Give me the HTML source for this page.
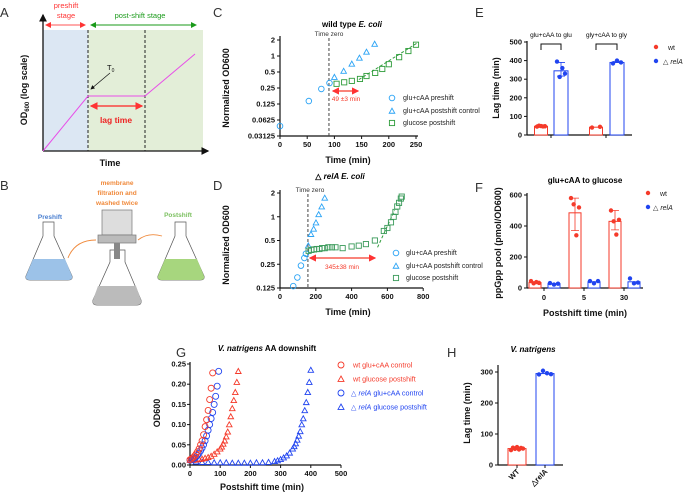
<!DOCTYPE html>
<html><head><meta charset="utf-8"><style>
html,body{margin:0;padding:0;background:#fff;}
svg{display:block;font-family:"Liberation Sans",Arial,sans-serif;}
.tk{font-size:7.5px;font-weight:bold;fill:#111;}
.al{font-size:9px;font-weight:bold;fill:#111;}
.pl{font-size:13px;fill:#333;}
.lg{font-size:7px;fill:#222;}
</style></head><body>
<svg id="fig" width="685" height="495" viewBox="0 0 685 495">
<defs>
<marker id="ar" markerWidth="6" markerHeight="6" refX="5" refY="3" orient="auto"><path d="M0,0L6,3L0,6z" fill="#111"/></marker>
<marker id="arR" markerWidth="6" markerHeight="6" refX="5" refY="3" orient="auto-start-reverse"><path d="M0,0L6,3L0,6z" fill="#f33"/></marker>
<marker id="arG" markerWidth="6" markerHeight="6" refX="5" refY="3" orient="auto-start-reverse"><path d="M0,0L6,3L0,6z" fill="#1a9a1a"/></marker>
</defs>
<text class="pl" x="0" y="17">A</text>
<text class="pl" x="0" y="190">B</text>
<text class="pl" x="213" y="17">C</text>
<text class="pl" x="213" y="190">D</text>
<text class="pl" x="475" y="17">E</text>
<text class="pl" x="475" y="192">F</text>
<text class="pl" x="176" y="357">G</text>
<text class="pl" x="447" y="357">H</text>

<g>
<rect x="43" y="30" width="45" height="121" fill="#dce7f3"/>
<rect x="88" y="30" width="115" height="121" fill="#e3eed8"/>
<line x1="43" y1="151" x2="43" y2="15" stroke="#111" stroke-width="1.3" marker-end="url(#ar)"/>
<line x1="43" y1="151" x2="208" y2="151" stroke="#111" stroke-width="1.3" marker-end="url(#ar)"/>
<line x1="88" y1="30" x2="88" y2="151" stroke="#222" stroke-dasharray="3,2"/>
<line x1="145" y1="30" x2="145" y2="151" stroke="#222" stroke-dasharray="3,2"/>
<polyline points="43,151 88,96 145,96 195,54" fill="none" stroke="#e84ee8" stroke-width="1"/>
<line x1="46" y1="25" x2="85" y2="25" stroke="#f55" marker-start="url(#arR)" marker-end="url(#arR)"/>
<line x1="91" y1="25" x2="196" y2="25" stroke="#1a9a1a" marker-start="url(#arG)" marker-end="url(#arG)"/>
<text x="66" y="8" font-size="7.5" fill="#f33" text-anchor="middle">preshift</text>
<text x="66" y="18" font-size="7.5" fill="#f33" text-anchor="middle">stage</text>
<text x="140" y="18" font-size="7.5" fill="#1a9a1a" text-anchor="middle">post-shift stage</text>
<text x="107" y="70" font-size="7.5" fill="#111">T<tspan font-size="5" dy="2">0</tspan></text>
<line x1="110" y1="73" x2="91" y2="89" stroke="#111" stroke-width="0.7" marker-end="url(#ar)"/>
<line x1="91" y1="106" x2="142" y2="106" stroke="#f22" stroke-width="1.3" marker-start="url(#arR)" marker-end="url(#arR)"/>
<text x="116" y="123" font-size="8.5" font-weight="bold" fill="#e22" text-anchor="middle">lag time</text>
<text x="110" y="166" class="al" text-anchor="middle">Time</text>
<text transform="translate(27,90) rotate(-90)" class="al" text-anchor="middle">OD<tspan font-size="6" dy="2">600</tspan><tspan dy="-2"> (log scale)</tspan></text>
</g>

<g>
<text x="50" y="219" font-size="6.5" font-weight="bold" fill="#4a7fd0" text-anchor="middle">Preshift</text>
<text x="117" y="185" font-size="6.5" font-weight="bold" fill="#f08a3c" text-anchor="middle">membrane</text>
<text x="117" y="195" font-size="6.5" font-weight="bold" fill="#f08a3c" text-anchor="middle">filtration and</text>
<text x="117" y="205" font-size="6.5" font-weight="bold" fill="#f08a3c" text-anchor="middle">washed twice</text>
<text x="178" y="217" font-size="6.5" font-weight="bold" fill="#7cc060" text-anchor="middle">Postshift</text>
<path d="M43,222 L54,222 L54,236 L72,276 Q73,280 68,280 L30,280 Q25,280 26,276 L43,236 Z" fill="#fff" stroke="#555" stroke-width="0.7"/>
<path d="M33,259 L65,259 L72,276 Q73,280 68,280 L30,280 Q25,280 26,276 Z" fill="#9cc2e8"/>
<path d="M175,222 L186,222 L186,236 L204,276 Q205,280 200,280 L162,280 Q157,280 158,276 L175,236 Z" fill="#fff" stroke="#555" stroke-width="0.7"/>
<path d="M165,259 L197,259 L204,276 Q205,280 200,280 L162,280 Q157,280 158,276 Z" fill="#a7d67e"/>
<path d="M110,250 L125,250 L125,262 L141,300 Q142,305 137,305 L97,305 Q92,305 93,300 L110,262 Z" fill="#fff" stroke="#555" stroke-width="0.7"/>
<path d="M98,286 L136,286 L141,300 Q142,305 137,305 L97,305 Q92,305 93,300 Z" fill="#bbb"/>
<rect x="102" y="210" width="30" height="25" fill="#ddd" stroke="#777" stroke-width="0.7"/>
<rect x="98" y="235" width="38" height="8" fill="#bbb" stroke="#777" stroke-width="0.7"/>
<rect x="114" y="243" width="6" height="16" fill="#888"/>
<path d="M68,258 Q75,240 96,240" fill="none" stroke="#f08a3c" stroke-width="0.9"/>
<path d="M138,240 Q148,232 162,236" fill="none" stroke="#f08a3c" stroke-width="0.9"/>
</g>

<g id="gC"></g>
<g id="gD"></g>
<g id="gE"></g>
<g id="gF"></g>
<g id="gG"></g>
<g id="gH"></g>
</svg>
<script>
const cPreT=[0,53,76,91];
const cPreV=[0.048,0.142,0.24,0.31];
const cCtlT=[100,117,132,146,159,174];
const cCtlV=[0.40,0.52,0.71,0.92,1.19,1.68];
const cGluT=[104,118,132,147,159,175,188,200,219,236,250];
const cGluV=[0.30,0.32,0.34,0.37,0.42,0.48,0.57,0.70,0.95,1.24,1.63];
const cYTicks=["2","1","0.5","0.25","0.125","0.0625","0.03125"];
const cXTicks=[0,50,100,150,200,250];
const dPreT=[74,97,117,136,145];
const dPreV=[0.132,0.17,0.24,0.30,0.34];
const dCtlT=[158,173,188,201,216,233,250];
const dCtlV=[0.43,0.60,0.70,0.84,1.07,1.34,1.73];
const dGluT=[160,175,190,205,220,235,250,270,290,310,350,400,440,480,530,580,600,620,635,645,655,665,675,680];
const dGluV=[0.37,0.38,0.385,0.39,0.39,0.40,0.40,0.41,0.41,0.41,0.40,0.42,0.43,0.45,0.50,0.66,0.72,0.85,1.0,1.15,1.35,1.5,1.7,1.8];
const dYTicks=["2","1","0.5","0.25","0.125"];
const dXTicks=[0,200,400,600,800];
const eGroups=["glu+cAA to glu","gly+cAA to gly"];
const eWt=[47,42];
const eRel=[345,390];
const eWtPts=[[45,50,48,46,47],[40,44]];
const eRelPts=[[395,312,360,330],[385,400,390]];
const eYTicks=[0,100,200,300,400,500];
const fCats=["0","5","30"];
const fWt=[35,485,430];
const fRel=[28,40,40];
const fWtPts=[[45,30,38,33],[580,540,340,520],[500,430,345,440]];
const fRelPts=[[32,22,28],[45,30,45],[62,30,35]];
const fYTicks=[0,200,400,600];
const gT=[0,5,10,15,20,25,30,35,40,45,50,55,60,65,70,75,80,85,90,95];
const gWtCtl=[0.013,0.015,0.018,0.022,0.027,0.033,0.04,0.05,0.06,0.075,0.095,0.112,0.135,0.162,0.19,0.228];
const gRelCtl=[0.012,0.013,0.015,0.017,0.02,0.024,0.029,0.035,0.042,0.05,0.06,0.072,0.086,0.1,0.115,0.13,0.15,0.17,0.195,0.232];
const gWtGluT=[0,10,20,30,40,50,60,70,80,90,100,105,110,115,120,125,130,135,140,145,150,155,160];
const gWtGlu=[0.012,0.012,0.013,0.014,0.015,0.017,0.019,0.022,0.027,0.033,0.04,0.045,0.052,0.06,0.07,0.082,0.1,0.12,0.14,0.16,0.18,0.205,0.232];
const gRelGluT=[20,40,60,80,100,120,140,160,180,200,220,240,260,280,290,300,310,320,330,340,345,350,355,360,365,370,375,380,385,390,395,400];
const gRelGlu=[0.008,0.007,0.007,0.006,0.006,0.006,0.005,0.005,0.005,0.005,0.006,0.006,0.007,0.009,0.011,0.014,0.018,0.023,0.03,0.04,0.046,0.053,0.062,0.072,0.083,0.1,0.115,0.135,0.155,0.18,0.205,0.235];
const gYTicks=[0,0.05,0.10,0.15,0.20,0.25];
const gXTicks=[0,100,200,300,400,500];
const hCats=["WT","△relA"];
const hVals=[53,295];
const hPts=[[48,56,52,58,50,55,53],[292,304,296,293]];
const hYTicks=[0,100,200,300];

const NS="http://www.w3.org/2000/svg";
function el(p,tag,a,txt){const e=document.createElementNS(NS,tag);for(const k in a)e.setAttribute(k,a[k]);if(txt!==undefined)e.textContent=txt;p.appendChild(e);return e;}
function circ(p,x,y,r,c){const e=el(p,'circle',{cx:x,cy:y,r:r,fill:'none',stroke:c,'stroke-width':0.9});

return e;}
function tri(p,x,y,s,c){const e=el(p,'path',{d:`M${x},${y-s}L${x+s},${y+s*0.8}L${x-s},${y+s*0.8}Z`,fill:'none',stroke:c,'stroke-width':0.9});

return e;}
function sq(p,x,y,s,c){const e=el(p,'rect',{x:x-s,y:y-s,width:2*s,height:2*s,fill:'none',stroke:c,'stroke-width':0.9});

return e;}
function dot(p,x,y,c){const e=el(p,'circle',{cx:x,cy:y,r:2.2,fill:c});

return e;}
function axes(p,x0,x1,y0,y1){el(p,'line',{x1:x0,y1:y0,x2:x0,y2:y1,stroke:'#111','stroke-width':1.2});el(p,'line',{x1:x0,y1:y0,x2:x1,y2:y0,stroke:'#111','stroke-width':1.2});}
function ylab(p,x,y,t){const e=el(p,'text',{transform:`translate(${x},${y}) rotate(-90)`,class:'al','text-anchor':'middle'},t);

return e;}
function xlab(p,x,y,t){const e=el(p,'text',{x:x,y:y,class:'al','text-anchor':'middle'},t);

return e;}
const BLUE='#2aa3f5',GREEN='#2e9c3a',RED='#f53a2a',DBLUE='#2044f0';

(function(){const g=document.getElementById('gC');
const X=t=>280+t*0.544, Y=v=>40+(1-Math.log2(v))*16;
axes(g,280,418,136,36);
cYTicks.forEach(s=>{const y=Y(parseFloat(s));el(g,'line',{x1:277,y1:y,x2:280,y2:y,stroke:'#111'});el(g,'text',{x:275,y:y+2.5,class:'tk','text-anchor':'end'},s);});
cXTicks.forEach(t=>{el(g,'line',{x1:X(t),y1:136,x2:X(t),y2:139,stroke:'#111'});el(g,'text',{x:X(t),y:147,class:'tk','text-anchor':'middle'},t);});
const tt=el(g,'text',{x:352,y:27,'font-size':8,'font-weight':'bold','text-anchor':'middle'});tt.innerHTML='wild type <tspan font-style="italic">E. coli</tspan>';
el(g,'text',{x:329,y:36,'font-size':6.5,'text-anchor':'middle',fill:'#333'},'Time zero');
el(g,'line',{x1:X(90),y1:38,x2:X(90),y2:136,stroke:'#444','stroke-dasharray':'3,2'});
el(g,'line',{x1:X(145),y1:Y(0.36),x2:X(252),y2:Y(1.75),stroke:GREEN,'stroke-dasharray':'3,2'});
el(g,'line',{x1:333,y1:91,x2:358,y2:91,stroke:RED,'stroke-width':1.2,'marker-start':'url(#arR)','marker-end':'url(#arR)'});
el(g,'text',{x:346,y:101,'font-size':6.5,fill:RED,'text-anchor':'middle'},'49 ±3 min');
cPreT.forEach((t,i)=>circ(g,X(t),Y(cPreV[i]),2.8,BLUE));
cCtlT.forEach((t,i)=>tri(g,X(t),Y(cCtlV[i]),2.8,BLUE));
cGluT.forEach((t,i)=>sq(g,X(t),Y(cGluV[i]),2.6,GREEN));
ylab(g,229,88,'Normalized OD600');xlab(g,348,163,'Time (min)');
circ(g,392,98,2.8,BLUE);el(g,'text',{x:403,y:100,class:'lg'},'glu+cAA preshift');
tri(g,392,111,2.8,BLUE);el(g,'text',{x:403,y:113,class:'lg'},'glu+cAA postshift control');
sq(g,392,123,2.6,GREEN);el(g,'text',{x:403,y:125,class:'lg'},'glucose postshift');
})();

(function(){const g=document.getElementById('gD');
const X=t=>280+t*0.179, Y=v=>193+(1-Math.log2(v))*23.75;
axes(g,280,423,288,190);
dYTicks.forEach(s=>{const y=Y(parseFloat(s));el(g,'line',{x1:277,y1:y,x2:280,y2:y,stroke:'#111'});el(g,'text',{x:275,y:y+2.5,class:'tk','text-anchor':'end'},s);});
dXTicks.forEach(t=>{el(g,'line',{x1:X(t),y1:288,x2:X(t),y2:291,stroke:'#111'});el(g,'text',{x:X(t),y:299,class:'tk','text-anchor':'middle'},t);});
const tt=el(g,'text',{x:340,y:179,'font-size':8,'font-weight':'bold','text-anchor':'middle'});tt.innerHTML='△ <tspan font-style="italic">relA E. coli</tspan>';
el(g,'text',{x:310,y:192,'font-size':6.5,'text-anchor':'middle',fill:'#333'},'Time zero');
el(g,'line',{x1:X(156),y1:194,x2:X(156),y2:288,stroke:'#444','stroke-dasharray':'3,2'});
el(g,'line',{x1:X(545),y1:Y(0.41),x2:X(640),y2:Y(1.2),stroke:GREEN,'stroke-dasharray':'3,2'});
el(g,'line',{x1:310,y1:258,x2:375,y2:258,stroke:RED,'stroke-width':1.2,'marker-start':'url(#arR)','marker-end':'url(#arR)'});
el(g,'text',{x:342,y:269,'font-size':6.5,fill:RED,'text-anchor':'middle'},'345±38 min');
dPreT.forEach((t,i)=>circ(g,X(t),Y(dPreV[i]),2.8,BLUE));
dCtlT.forEach((t,i)=>tri(g,X(t),Y(dCtlV[i]),2.8,BLUE));
dGluT.forEach((t,i)=>sq(g,X(t),Y(dGluV[i]),2.6,'#3a9a5a'));
ylab(g,229,245,'Normalized OD600');xlab(g,348,315,'Time (min)');
circ(g,396,253,2.8,BLUE);el(g,'text',{x:406,y:255,class:'lg'},'glu+cAA preshift');
tri(g,396,266,2.8,BLUE);el(g,'text',{x:406,y:268,class:'lg'},'glu+cAA postshift control');
sq(g,396,278,2.6,'#3a9a5a');el(g,'text',{x:406,y:280,class:'lg'},'glucose postshift');
})();

(function(){const g=document.getElementById('gE');
const Y=v=>135-v*0.186; const cx=[[541,561],[596,617]];
axes(g,527,632,135,41);
eYTicks.forEach(v=>{el(g,'line',{x1:524,y1:Y(v),x2:527,y2:Y(v),stroke:'#111'});el(g,'text',{x:522,y:Y(v)+2.5,class:'tk','text-anchor':'end'},v);});
el(g,'line',{x1:551,y1:135,x2:551,y2:138,stroke:'#111'});el(g,'line',{x1:606,y1:135,x2:606,y2:138,stroke:'#111'});
eGroups.forEach((n,i)=>{
 const a=cx[i][0],b=cx[i][1];
 el(g,'path',{d:`M${a},50V44H${b}V50`,fill:'none',stroke:'#111'});
 el(g,'text',{x:(a+b)/2,y:37,'font-size':6.5,'text-anchor':'middle'},n);
 const w=el(g,'rect',{x:a-6.5,y:Y(eWt[i]),width:13,height:135-Y(eWt[i]),fill:'#fff',stroke:RED,'stroke-width':1});
 
 
 const r=el(g,'rect',{x:b-7,y:Y(eRel[i]),width:14,height:135-Y(eRel[i]),fill:'#fff',stroke:DBLUE,'stroke-width':1});
 
 
 eWtPts[i].forEach((v,j)=>dot(g,a-4+j*8/Math.max(1,eWtPts[i].length-1),Y(v),RED));
 eRelPts[i].forEach((v,j)=>dot(g,b-4+j*8/Math.max(1,eRelPts[i].length-1),Y(v),DBLUE));
 const mx=Math.max(...eRelPts[i]),mn=Math.min(...eRelPts[i]);
 el(g,'path',{d:`M${b},${Y(mx-5)}V${Y(mn+5)}M${b-4},${Y(mx-5)}H${b+4}M${b-4},${Y(mn+5)}H${b+4}`,stroke:DBLUE,'stroke-width':0.8,fill:'none'});
});
ylab(g,499,88,'Lag time (min)');
dot(g,656,47,RED);el(g,'text',{x:668,y:50,class:'lg','font-size':7},'wt');
dot(g,656,61,DBLUE);const t=el(g,'text',{x:663,y:64,class:'lg','font-size':7});t.innerHTML='△ <tspan font-style="italic">relA</tspan>';
})();

(function(){const g=document.getElementById('gF');
const Y=v=>288-v*0.155; const cx=[544,584,624];
axes(g,527,643,288,193);
fYTicks.forEach(v=>{el(g,'line',{x1:524,y1:Y(v),x2:527,y2:Y(v),stroke:'#111'});el(g,'text',{x:522,y:Y(v)+2.5,class:'tk','text-anchor':'end'},v);});
el(g,'text',{x:585,y:183,'font-size':8,'font-weight':'bold','text-anchor':'middle'},'glu+cAA to glucose');
fCats.forEach((c,i)=>{
 const x=cx[i];
 el(g,'line',{x1:x,y1:288,x2:x,y2:291,stroke:'#111'});
 el(g,'text',{x:x,y:300,class:'tk','font-size':8,'text-anchor':'middle'},c);
 const w=el(g,'rect',{x:x-15,y:Y(fWt[i]),width:12,height:288-Y(fWt[i]),fill:'#fff',stroke:RED,'stroke-width':1});
 
 
 const r=el(g,'rect',{x:x+4,y:Y(fRel[i]),width:12,height:288-Y(fRel[i]),fill:'#fff',stroke:DBLUE,'stroke-width':1});
 
 
 fWtPts[i].forEach((v,j)=>dot(g,x-13+j*8/(fWtPts[i].length-1),Y(v),RED));
 fRelPts[i].forEach((v,j)=>dot(g,x+6+j*8/(fRelPts[i].length-1),Y(v),DBLUE));
 if(i>0){const mx=Math.max(...fWtPts[i]),mn=Math.min(...fWtPts[i]);el(g,'path',{d:`M${x-9},${Y(mx)}V${Y(mn+30)}M${x-13},${Y(mx)}H${x-5}M${x-13},${Y(mn+30)}H${x-5}`,stroke:RED,'stroke-width':0.8,fill:'none'});}
});
ylab(g,501,243,'ppGpp pool (pmol/OD600)');xlab(g,585,316,'Postshift time (min)');
dot(g,648,193,RED);el(g,'text',{x:660,y:196,class:'lg','font-size':7},'wt');
dot(g,648,207,DBLUE);const t=el(g,'text',{x:653,y:210,class:'lg','font-size':7});t.innerHTML='△ <tspan font-style="italic">relA</tspan>';
})();

(function(){const g=document.getElementById('gG');
const X=t=>190+t*0.302, Y=v=>465-v*404;
axes(g,190,341,465,362);
gYTicks.forEach(v=>{el(g,'line',{x1:187,y1:Y(v),x2:190,y2:Y(v),stroke:'#111'});el(g,'text',{x:186,y:Y(v)+2.5,class:'tk','text-anchor':'end'},v.toFixed(2));});
gXTicks.forEach(t=>{el(g,'line',{x1:X(t),y1:465,x2:X(t),y2:468,stroke:'#111'});el(g,'text',{x:X(t),y:476,class:'tk','text-anchor':'middle'},t);});
const tt=el(g,'text',{x:267,y:351,'font-size':8,'font-weight':'bold','text-anchor':'middle'});tt.innerHTML='<tspan font-style="italic">V. natrigens</tspan> AA downshift';
gRelGluT.forEach((t,i)=>tri(g,X(t),Y(gRelGlu[i]),2.8,DBLUE));
gWtGluT.forEach((t,i)=>tri(g,X(t),Y(gWtGlu[i]),2.8,RED));
gRelCtl.forEach((v,i)=>circ(g,X(gT[i]),Y(v),3,DBLUE));
gWtCtl.forEach((v,i)=>circ(g,X(gT[i]),Y(v),3,RED));
ylab(g,160,413,'OD600');xlab(g,262,490,'Postshift time (min)');
circ(g,341,365,3,RED);el(g,'text',{x:353,y:367.5,'font-size':7.2,fill:RED},'wt glu+cAA control');
tri(g,341,379,3,RED);el(g,'text',{x:353,y:381.5,'font-size':7.2,fill:RED},'wt glucose postshift');
circ(g,341,393,3,DBLUE);let t=el(g,'text',{x:351,y:395.5,'font-size':7.2,fill:DBLUE});t.innerHTML='△ <tspan font-style="italic">relA</tspan> glu+cAA control';
tri(g,341,407,3,DBLUE);t=el(g,'text',{x:351,y:409.5,'font-size':7.2,fill:DBLUE});t.innerHTML='△ <tspan font-style="italic">relA</tspan> glucose postshift';
})();

(function(){const g=document.getElementById('gH');
const Y=v=>465-v*0.31; const cx=[517,545];const cols=[RED,DBLUE];
axes(g,498,563,465,365);
hYTicks.forEach(v=>{el(g,'line',{x1:495,y1:Y(v),x2:498,y2:Y(v),stroke:'#111'});el(g,'text',{x:493,y:Y(v)+2.5,class:'tk','text-anchor':'end'},v);});
el(g,'text',{x:533,y:352,'font-size':8,'font-weight':'bold','font-style':'italic','text-anchor':'middle'},'V. natrigens');
hCats.forEach((c,i)=>{
 const x=cx[i];
 const b=el(g,'rect',{x:x-9,y:Y(hVals[i]),width:18,height:465-Y(hVals[i]),fill:'#fff',stroke:cols[i],'stroke-width':1});
 
 
 hPts[i].forEach((v,j)=>dot(g,x-6+j*12/(hPts[i].length-1),Y(v),cols[i]));
 el(g,'line',{x1:x,y1:465,x2:x,y2:468,stroke:'#111'});
 el(g,'text',{transform:`translate(${x+3},${472}) rotate(-45)`,class:'tk','font-size':7.5,'text-anchor':'end'},c);
});
ylab(g,470,413,'Lag time (min)');
})();
</script>
</body></html>
